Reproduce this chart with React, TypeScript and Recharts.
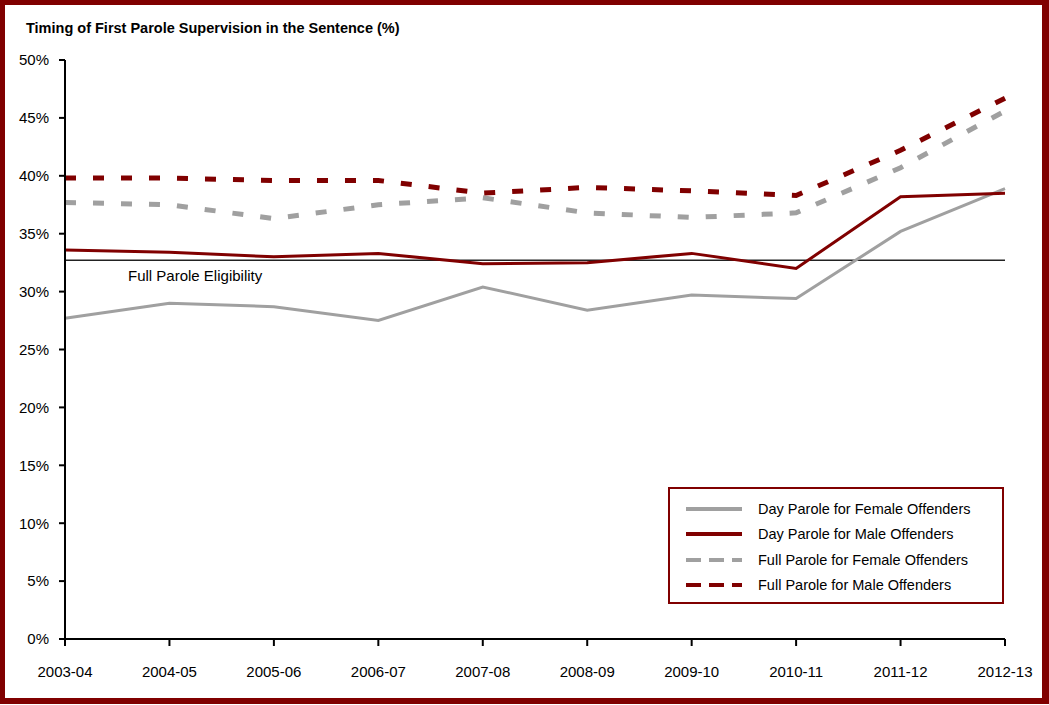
import { LineChart, Line, XAxis, YAxis, ReferenceLine } from 'recharts';

const years = ['2003-04', '2004-05', '2005-06', '2006-07', '2007-08', '2008-09', '2009-10', '2010-11', '2011-12', '2012-13'];
const dayFemale = [27.7, 29.0, 28.7, 27.5, 30.4, 28.4, 29.7, 29.4, 35.2, 38.9];
const dayMale = [33.6, 33.4, 33.0, 33.3, 32.4, 32.5, 33.3, 32.0, 38.2, 38.5];
const fullFemale = [37.7, 37.5, 36.3, 37.5, 38.1, 36.8, 36.4, 36.8, 40.7, 45.6];
const fullMale = [39.8, 39.8, 39.6, 39.6, 38.5, 39.0, 38.7, 38.3, 42.2, 46.7];
const yTicks = [0, 5, 10, 15, 20, 25, 30, 35, 40, 45, 50];
const fullParoleEligibility = 32.7;

const RED = '#800000';
const GREY = '#a0a0a0';
const FONT = '"Liberation Sans", Arial, sans-serif';

const series = [
  { key: 'dayFemale', name: 'Day Parole for Female Offenders', color: GREY, width: 3, dash: undefined, legendDash: undefined },
  { key: 'dayMale', name: 'Day Parole for Male Offenders', color: RED, width: 3, dash: undefined, legendDash: undefined },
  { key: 'fullFemale', name: 'Full Parole for Female Offenders', color: GREY, width: 5, dash: '11 17', legendDash: '15 8' },
  { key: 'fullMale', name: 'Full Parole for Male Offenders', color: RED, width: 5, dash: '11 17', legendDash: '15 8' },
];

const data = years.map((year, i) => ({
  year,
  dayFemale: dayFemale[i],
  dayMale: dayMale[i],
  fullFemale: fullFemale[i],
  fullMale: fullMale[i],
}));

// legend sits inside the plot, bottom right, so it is drawn outside recharts' layout
function LegendBox() {
  return (
    <div
      style={{
        position: 'absolute',
        left: 668,
        top: 487,
        width: 336,
        height: 117,
        boxSizing: 'border-box',
        border: `2px solid ${RED}`,
        background: '#fff',
        paddingTop: 7,
      }}
    >
      {series.map((s) => (
        <div key={s.key} style={{ display: 'flex', alignItems: 'center', height: 25.5 }}>
          <svg width={88} height={10} style={{ flex: 'none' }}>
            <line
              x1={16}
              x2={72}
              y1={5}
              y2={5}
              stroke={s.color}
              strokeWidth={4}
              strokeDasharray={s.legendDash}
            />
          </svg>
          <span style={{ fontFamily: FONT, fontSize: 14.5, color: '#000' }}>{s.name}</span>
        </div>
      ))}
    </div>
  );
}

export default function App() {
  return (
    <div style={{ position: 'absolute', left: 0, top: 0, width: 1049, height: 705, background: '#fff' }}>
      <div
        style={{
          position: 'absolute',
          left: 0,
          top: 0,
          width: 1049,
          height: 704,
          boxSizing: 'border-box',
          borderStyle: 'solid',
          borderColor: RED,
          borderWidth: '5px 7px 6px 5px',
        }}
      />
      <div
        style={{
          position: 'absolute',
          left: 26,
          top: 20,
          fontFamily: FONT,
          fontWeight: 'bold',
          fontSize: 14.5,
          color: '#000',
        }}
      >
        Timing of First Parole Supervision in the Sentence (%)
      </div>
      <LineChart
        width={1049}
        height={705}
        data={data}
        margin={{ top: 60, right: 44, left: 15, bottom: 26 }}
        style={{ position: 'absolute', left: 0, top: 0 }}
      >
        <XAxis
          dataKey="year"
          height={40}
          axisLine={{ stroke: '#000', strokeWidth: 2 }}
          tickLine={{ stroke: '#000', strokeWidth: 2 }}
          tickSize={7}
          tickMargin={20}
          tick={{ fill: '#000', fontSize: 15, fontFamily: FONT }}
          interval={0}
        />
        <YAxis
          width={50}
          domain={[0, 50]}
          ticks={yTicks}
          axisLine={{ stroke: '#000', strokeWidth: 2 }}
          tickLine={{ stroke: '#000', strokeWidth: 2 }}
          tickSize={6}
          tickMargin={10}
          tick={{ fill: '#000', fontSize: 15, fontFamily: FONT }}
          tickFormatter={(v) => `${v}%`}
        />
        <ReferenceLine
          y={fullParoleEligibility}
          stroke="#222"
          strokeWidth={1.5}
          label={({ viewBox }: any) => (
            <text x={viewBox.x + 63} y={viewBox.y + 21} fill="#000" fontSize={15} fontFamily={FONT}>
              Full Parole Eligibility
            </text>
          )}
        />
        {series.map((s) => (
          <Line
            key={s.key}
            type="linear"
            dataKey={s.key}
            name={s.name}
            stroke={s.color}
            strokeWidth={s.width}
            strokeDasharray={s.dash}
            dot={false}
            activeDot={false}
            isAnimationActive={false}
          />
        ))}
      </LineChart>
      <LegendBox />
    </div>
  );
}
